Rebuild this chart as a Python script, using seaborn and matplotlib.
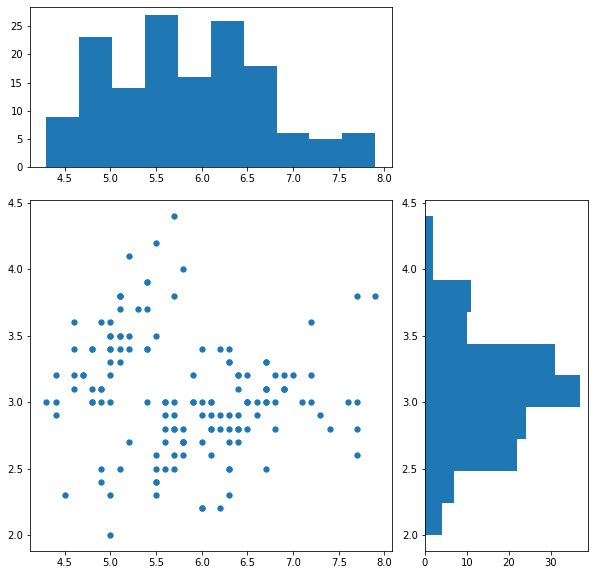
import matplotlib
matplotlib.use("Agg")
import matplotlib.pyplot as plt
import seaborn as sns
import numpy as np

# iris sepal measurements
sepal_length = [
    5.1, 4.9, 4.7, 4.6, 5.0, 5.4, 4.6, 5.0, 4.4, 4.9, 5.4, 4.8, 4.8, 4.3, 5.8, 5.7, 5.4, 5.1, 5.7, 5.1,
    5.4, 5.1, 4.6, 5.1, 4.8, 5.0, 5.0, 5.2, 5.2, 4.7, 4.8, 5.4, 5.2, 5.5, 4.9, 5.0, 5.5, 4.9, 4.4, 5.1,
    5.0, 4.5, 4.4, 5.0, 5.1, 4.8, 5.1, 4.6, 5.3, 5.0,
    7.0, 6.4, 6.9, 5.5, 6.5, 5.7, 6.3, 4.9, 6.6, 5.2, 5.0, 5.9, 6.0, 6.1, 5.6, 6.7, 5.6, 5.8, 6.2, 5.6,
    5.9, 6.1, 6.3, 6.1, 6.4, 6.6, 6.8, 6.7, 6.0, 5.7, 5.5, 5.5, 5.8, 6.0, 5.4, 6.0, 6.7, 6.3, 5.6, 5.5,
    5.5, 6.1, 5.8, 5.0, 5.6, 5.7, 5.7, 6.2, 5.1, 5.7,
    6.3, 5.8, 7.1, 6.3, 6.5, 7.6, 4.9, 7.3, 6.7, 7.2, 6.5, 6.4, 6.8, 5.7, 5.8, 6.4, 6.5, 7.7, 7.7, 6.0,
    6.9, 5.6, 7.7, 6.3, 6.7, 7.2, 6.2, 6.1, 6.4, 7.2, 7.4, 7.9, 6.4, 6.3, 6.1, 7.7, 6.3, 6.4, 6.0, 6.9,
    6.7, 6.9, 5.8, 6.8, 6.7, 6.7, 6.3, 6.5, 6.2, 5.9,
]
sepal_width = [
    3.5, 3.0, 3.2, 3.1, 3.6, 3.9, 3.4, 3.4, 2.9, 3.1, 3.7, 3.4, 3.0, 3.0, 4.0, 4.4, 3.9, 3.5, 3.8, 3.8,
    3.4, 3.7, 3.6, 3.3, 3.4, 3.0, 3.4, 3.5, 3.4, 3.2, 3.1, 3.4, 4.1, 4.2, 3.1, 3.2, 3.5, 3.6, 3.0, 3.4,
    3.5, 2.3, 3.2, 3.5, 3.8, 3.0, 3.8, 3.2, 3.7, 3.3,
    3.2, 3.2, 3.1, 2.3, 2.8, 2.8, 3.3, 2.4, 2.9, 2.7, 2.0, 3.0, 2.2, 2.9, 2.9, 3.1, 3.0, 2.7, 2.2, 2.5,
    3.2, 2.8, 2.5, 2.8, 2.9, 3.0, 2.8, 3.0, 2.9, 2.6, 2.4, 2.4, 2.7, 2.7, 3.0, 3.4, 3.1, 2.3, 3.0, 2.5,
    2.6, 3.0, 2.6, 2.3, 2.7, 3.0, 2.9, 2.9, 2.5, 2.8,
    3.3, 2.7, 3.0, 2.9, 3.0, 3.0, 2.5, 2.9, 2.5, 3.6, 3.2, 2.7, 3.0, 2.5, 2.8, 3.2, 3.0, 3.8, 2.6, 2.2,
    3.2, 2.8, 2.8, 2.7, 3.3, 3.2, 2.8, 3.0, 2.8, 3.0, 2.8, 3.8, 2.8, 2.8, 2.6, 3.0, 3.4, 3.1, 3.0, 3.1,
    3.1, 3.1, 2.7, 3.2, 3.3, 3.0, 2.5, 3.0, 3.4, 3.0,
]

N_BINS = 10
COLOR = "#1f77b4"

x = np.array(sepal_length)
y = np.array(sepal_width)

W, H = 595, 575
fig = plt.figure(figsize=(W / 72, H / 72), dpi=72)

# axes positions in pixels (left, top, right, bottom) -> figure fractions
def px_axes(left, top, right, bottom, **kw):
    return fig.add_axes([left / W, 1 - bottom / H, (right - left) / W, (bottom - top) / H], **kw)

ax_main = px_axes(30, 200, 391.7, 551)
ax_top = px_axes(30, 7.3, 391.7, 167.3, sharex=ax_main)
ax_right = px_axes(424.7, 200, 588, 551, sharey=ax_main)

sns.scatterplot(x=x, y=y, ax=ax_main, color=COLOR, s=40, linewidth=0)
sns.histplot(x=x, bins=N_BINS, ax=ax_top, color=COLOR, alpha=1, linewidth=0)
sns.histplot(y=y, bins=N_BINS, ax=ax_right, color=COLOR, alpha=1, linewidth=0)

for ax in (ax_main, ax_top, ax_right):
    ax.set_xlabel("")
    ax.set_ylabel("")
    ax.tick_params(labelsize=10)

fig.savefig("out.png", dpi=72)
